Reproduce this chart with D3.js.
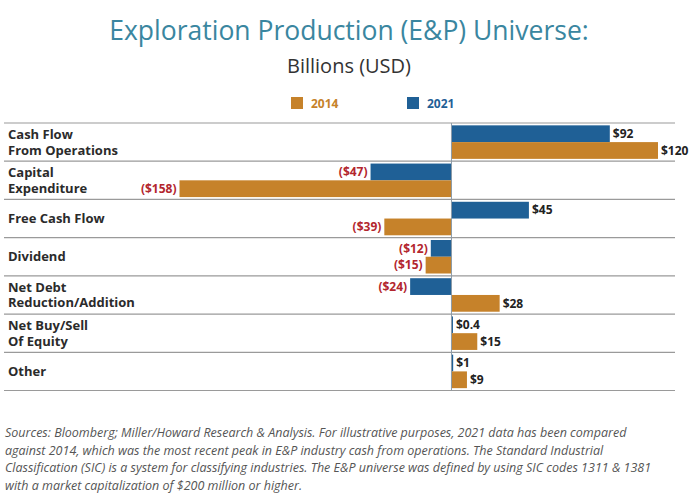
<!DOCTYPE html>
<html>
<head>
<meta charset="utf-8">
<script src="https://cdn.jsdelivr.net/npm/d3@7"></script>
<style>
  body { margin: 0; background: #fff; }
  svg { display: block; }
</style>
</head>
<body>
<svg id="chart" width="699" height="493"></svg>
<script>
const width = 699;
const height = 493;

// data
const categories = [
  ["Cash Flow", "From Operations"],
  ["Capital", "Expenditure"],
  ["Free Cash Flow"],
  ["Dividend"],
  ["Net Debt", "Reduction/Addition"],
  ["Net Buy/Sell", "Of Equity"],
  ["Other"]
];
const years = ["2021", "2014"];
const values2021 = [92, -47, 45, -12, -24, 0.4, 1];
const values2014 = [120, -158, -39, -15, 28, 15, 9];
const footnote = [
  "Sources: Bloomberg; Miller/Howard Research & Analysis. For illustrative purposes, 2021 data has been compared",
  "against 2014, which was the most recent peak in E&P industry cash from operations. The Standard Industrial",
  "Classification (SIC) is a system for classifying industries. The E&P universe was defined by using SIC codes 1311 & 1381",
  "with a market capitalization of $200 million or higher."
];

const colors = { "2014": "#c6822a", "2021": "#1f6096" };
const negColor = "#b3262e";
const textColor = "#2b2b2b";

const svg = d3.select("#chart");

// === TITLES ===
svg.append("text")
  .attr("x", 349).attr("y", 40)
  .attr("text-anchor", "middle")
  .attr("font-family", "Open Sans")
  .attr("font-size", 26.5)
  .attr("fill", "#3a86a0")
  .text("Exploration Production (E&P) Universe:");

svg.append("text")
  .attr("x", 349).attr("y", 73)
  .attr("text-anchor", "middle")
  .attr("font-family", "Open Sans")
  .attr("font-size", 20)
  .attr("fill", "#333")
  .text("Billions (USD)");

// === LEGEND ===
const legendItems = [
  { year: "2014", x: 291 },
  { year: "2021", x: 407 }
];
const legend = svg.append("g").selectAll("g")
  .data(legendItems)
  .join("g")
  .attr("transform", d => `translate(${d.x}, 97)`);
legend.append("rect")
  .attr("width", 12).attr("height", 12)
  .attr("fill", d => colors[d.year]);
legend.append("text")
  .attr("x", 20).attr("y", 10.5)
  .attr("font-family", "Open Sans")
  .attr("font-weight", "bold")
  .attr("font-size", 12)
  .attr("fill", d => colors[d.year])
  .text(d => d.year);

// === SCALES ===
const x = d3.scaleLinear()
  .domain([-158, 120])
  .range([179.5, 658]);

const y = d3.scaleBand()
  .domain(d3.range(categories.length))
  .range([123, 390.5]);

const yInner = d3.scaleBand()
  .domain(years)
  .range([0, y.bandwidth()])
  .paddingOuter(0.14);

// grid separators
svg.append("g").selectAll("line")
  .data(d3.range(categories.length + 1))
  .join("line")
  .attr("x1", 4).attr("x2", 675)
  .attr("y1", d => d < categories.length ? y(d) : y.range()[1])
  .attr("y2", d => d < categories.length ? y(d) : y.range()[1])
  .attr("stroke", "#9a9a9a")
  .attr("stroke-width", 1.2);

// === ROWS ===
const rows = categories.map((c, i) => ({
  i,
  lines: c,
  bars: [
    { year: "2021", value: values2021[i] },
    { year: "2014", value: values2014[i] }
  ]
}));

const rowG = svg.append("g").selectAll("g")
  .data(rows)
  .join("g")
  .attr("transform", d => `translate(0, ${y(d.i)})`);

// category labels
rowG.append("text")
  .attr("font-family", "Open Sans")
  .attr("font-weight", "bold")
  .attr("font-size", 13)
  .attr("fill", textColor)
  .each(function (d) {
    const t = d3.select(this);
    const n = d.lines.length;
    const startY = y.bandwidth() / 2 - (n - 1) * 7.5 + 4.5;
    d.lines.forEach((line, k) => {
      t.append("tspan")
        .attr("x", 8)
        .attr("y", startY + k * 15.5)
        .text(line);
    });
  });

const fmt = v => v < 0 ? `($${Math.abs(v)})` : `$${v}`;

const barG = rowG.selectAll("g.bar")
  .data(d => d.bars)
  .join("g")
  .attr("class", "bar");

barG.append("rect")
  .attr("x", d => x(Math.min(0, d.value)))
  .attr("y", d => yInner(d.year))
  .attr("width", d => Math.max(1.5, Math.abs(x(d.value) - x(0))))
  .attr("height", yInner.bandwidth())
  .attr("fill", d => colors[d.year]);

barG.append("text")
  .attr("x", d => d.value < 0 ? x(d.value) - 3 : Math.max(x(d.value), x(0) + 1.5) + 3)
  .attr("y", d => yInner(d.year) + yInner.bandwidth() / 2)
  .attr("dy", "0.36em")
  .attr("text-anchor", d => d.value < 0 ? "end" : "start")
  .attr("font-family", "Open Sans")
  .attr("font-weight", "bold")
  .attr("font-size", 12)
  .attr("fill", d => d.value < 0 ? negColor : "#222")
  .text(d => fmt(d.value));

// zero line
svg.append("line")
  .attr("x1", x(0)).attr("x2", x(0))
  .attr("y1", y.range()[0]).attr("y2", y.range()[1])
  .attr("stroke", "#8a9aa8")
  .attr("stroke-width", 1);

// === FOOTNOTE ===
svg.append("g").selectAll("text")
  .data(footnote)
  .join("text")
  .attr("x", 5)
  .attr("y", (d, i) => 437 + i * 17.6)
  .attr("font-family", "Open Sans")
  .attr("font-style", "italic")
  .attr("font-size", 12.5)
  .attr("fill", "#555")
  .text(d => d);
</script>
</body>
</html>
